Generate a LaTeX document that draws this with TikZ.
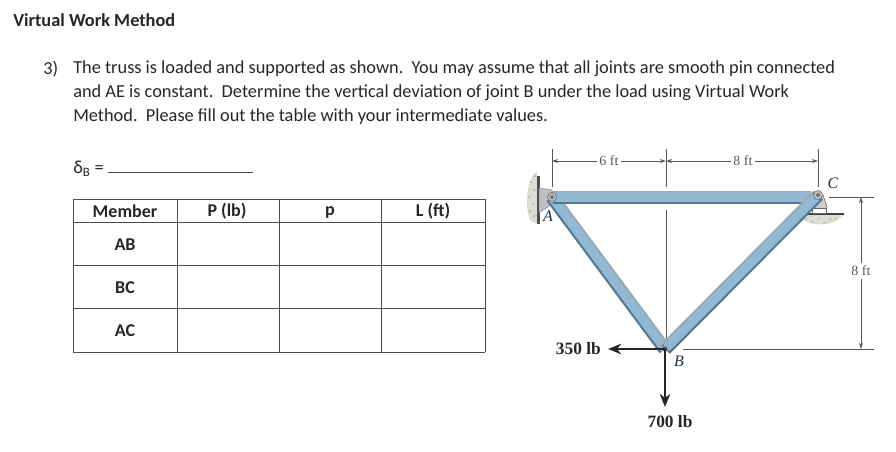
\documentclass[tikz,border=0pt]{standalone}
\usepackage{fontspec}
\setmainfont{Carlito}
\newfontfamily\figfont{Liberation Serif}
\usetikzlibrary{calc}
\usetikzlibrary{arrows.meta}
\definecolor{memberblue}{HTML}{93B8D2}
\definecolor{memberdark}{HTML}{4E7896}
\definecolor{memberedge}{HTML}{A4A8AB}
\definecolor{dimgrey}{HTML}{55585A}
\definecolor{gritgrey}{HTML}{DDDCD2}
\tikzset{
	qtext/.style={anchor=west, inner sep=0pt, text=black!85, font=\fontsize{13.75}{16}\selectfont},
	cell/.style={inner sep=0pt, text=black!85, font=\bfseries\fontsize{13.5}{16}\selectfont},
	gridline/.style={draw=black!70, line width=0.7pt},
	dimline/.style={draw=dimgrey, line width=0.7pt},
	dimarrow/.style={dimline, -{Stealth[length=4.5pt,width=3pt]}},
	dimtext/.style={inner sep=0pt, text=dimgrey, font=\figfont\fontsize{10.5}{12}\selectfont},
	loadtext/.style={inner sep=0pt, text=black!85, font=\figfont\bfseries\fontsize{13}{15}\selectfont},
	jointtext/.style={inner sep=0pt, text=black!60!memberdark, font=\figfont\itshape\fontsize{12}{14}\selectfont},
	loadarrow/.style={draw=black!85, line width=1pt, -{Stealth[length=10pt,width=8pt]}}
}
\begin{document}
\begin{tikzpicture}[x=0.75pt, y=-0.75pt]
	\useasboundingbox (0,0) rectangle (896,451);
	% question text
	\node[qtext, font=\bfseries\fontsize{13.75}{16}\selectfont] (title) at (13,20) {Virtual Work Method};
	\node[qtext] (qnum) at (43,69) {3)};
	\node[qtext] (qline1) at (73,69) {The truss is loaded and supported as shown.\ \ You may assume that all joints are smooth pin connected};
	\node[qtext] (qline2) at (73,93) {and AE is constant.\ \ Determine the vertical deviation of joint B under the load using Virtual Work};
	\node[qtext] (qline3) at (73,117) {Method.\ \ Please fill out the table with your intermediate values.};
	\node[qtext] (delta) at (73,169) {δ\textsubscript{B} =};
	\coordinate (blank1) at (108,172);
	\coordinate (blank2) at (253,172);
	\draw[black!70, line width=0.6pt] (blank1) -- (blank2);
	% table
	\foreach \y in {199,222,265,308,352} {
		\draw[gridline] (73,\y) -- (485,\y);
	}
	\foreach \x in {73,177,279,381,485} {
		\draw[gridline] (\x,199) -- (\x,352);
	}
	\node[cell] (hmember) at (125,211) {Member};
	\node[cell] (hforce) at (227,211) {P (lb)};
	\node[cell] (hp) at (330,212) {p};
	\node[cell] (hlength) at (433,211) {L (ft)};
	\node[cell] (rowab) at (125,245) {AB};
	\node[cell] (rowbc) at (125,288) {BC};
	\node[cell] (rowac) at (125,331) {AC};
	% joints
	\coordinate (A) at (552,197);
	\coordinate (B) at (665,349);
	\coordinate (C) at (818,195);
	% wall at A
	\fill[gritgrey] (537,171) .. controls (527,178) and (524,205) .. (530,220) -- (537,224) -- cycle;
	\foreach \px/\py in {531/182,534/190,529/197,533/204,530/211,534/216,535/176} {
		\fill[black!35] (\px,\py) circle (1);
	}
	\fill[black!70] (537,176) rectangle (539.5,224);
	\fill[black!25, draw=black!55, line width=0.3pt] (539,188) -- (552,190) -- (552,204) -- (539,213) -- cycle;
	% support at C
	\fill[gritgrey] (799,215) .. controls (804,226) and (832,229) .. (843,215) -- cycle;
	\foreach \px/\py in {806/219,812/222,818/219,824/223,830/219,836/219} {
		\fill[black!30] (\px,\py) circle (1);
	}
	\draw[black!75, line width=0.8pt] (798,214) -- (844,214);
	\fill[black!20, draw=black!60, line width=0.4pt] (813,195) -- (823,195) -- (827,207) .. controls (827,214) and (811,214) .. (811,207) -- cycle;
	\fill[white, draw=black!60, line width=0.4pt] (812,208) rectangle (826,213);
	% mid line behind the members
	\coordinate (midtop) at (666,149);
	\coordinate (midup) at (666,187);
	\coordinate (middown) at (666,210);
	\coordinate (midlow) at (666,340);
	\draw[dimline] (midtop) -- (midup);
	\draw[dimline] (middown) -- (midlow);
	% members
	\draw[memberedge, line width=9.5pt] (A) -- (B);
	\draw[memberdark, line width=8.5pt] ($(A)+(-0.8,0.8)$) -- ($(B)+(-0.8,0.8)$);
	\draw[memberblue, line width=7pt] (A) -- (B);
	\draw[memberedge, line width=9.5pt] (A) -- (811,197);
	\draw[memberdark, line width=8.5pt] (553,198) -- (811,198);
	\draw[memberblue, line width=7pt] (553,197) -- (811,197);
	\draw[memberedge, line width=9.5pt] (C) -- (B);
	\draw[memberdark, line width=8.5pt] ($(C)+(0.8,0.8)$) -- ($(B)+(0.8,0.8)$);
	\draw[memberblue, line width=7pt, line cap=round] ($(C)+(-3,3)$) -- ($(B)+(3,-3)$);
	% pins
	\fill[black!25, draw=black!60, line width=0.4pt] (A) circle (4.5);
	\fill[black!55] (A) circle (2);
	\fill[black!25, draw=black!60, line width=0.4pt] (C) circle (4.5);
	\fill[black!55] (C) circle (2);
	\fill[black!65] (B) circle (2.5);
	\node[jointtext] (labelA) at (548,216) {A};
	\node[jointtext] (labelB) at (679,361) {B};
	\node[jointtext] (labelC) at (833,183) {C};
	% dimensions
	\coordinate (topA) at (552,149);
	\coordinate (lowA) at (552,187);
	\coordinate (topC) at (818,149);
	\coordinate (lowC) at (818,187);
	\coordinate (dimA) at (552,161);
	\coordinate (dimM) at (666,161);
	\coordinate (dimC) at (818,161);
	\draw[dimline] (topA) -- (lowA);
	\draw[dimline] (topC) -- (lowC);
	\node[dimtext] (dimsix) at (609,161) {6 ft};
	\node[dimtext] (dimeight) at (743,161) {8 ft};
	\draw[dimarrow] (dimsix.west) ++(-2,0) coordinate (six1) (six1) -- (dimA);
	\draw[dimarrow] (dimsix.east) ++(2,0) coordinate (six2) (six2) -- (dimM);
	\draw[dimarrow] (dimeight.west) ++(-2,0) coordinate (eight1) (eight1) -- (dimM);
	\draw[dimarrow] (dimeight.east) ++(2,0) coordinate (eight2) (eight2) -- (dimC);
	\coordinate (ticktop1) at (829,197);
	\coordinate (ticktop2) at (874,197);
	\coordinate (ticklow1) at (683,349);
	\coordinate (ticklow2) at (874,349);
	\coordinate (sideT) at (861,197);
	\coordinate (sideB) at (861,349);
	\draw[dimline] (ticktop1) -- (ticktop2);
	\draw[dimline] (ticklow1) -- (ticklow2);
	\node[dimtext] (dimside) at (861,271) {8 ft};
	\draw[dimarrow] (dimside.north) ++(0,-3) coordinate (side1) (side1) -- (sideT);
	\draw[dimarrow] (dimside.south) ++(0,3) coordinate (side2) (side2) -- (sideB);
	% loads
	\node[loadtext, anchor=east] (loadh) at (601,349) {350 lb};
	\node[loadtext] (loadv) at (670,422) {700 lb};
	\coordinate (tiph) at (608,349);
	\coordinate (tipv) at (665,407);
	\draw[loadarrow] (B) -- (tiph);
	\draw[loadarrow] (B) -- (tipv);
\end{tikzpicture}
\end{document}
